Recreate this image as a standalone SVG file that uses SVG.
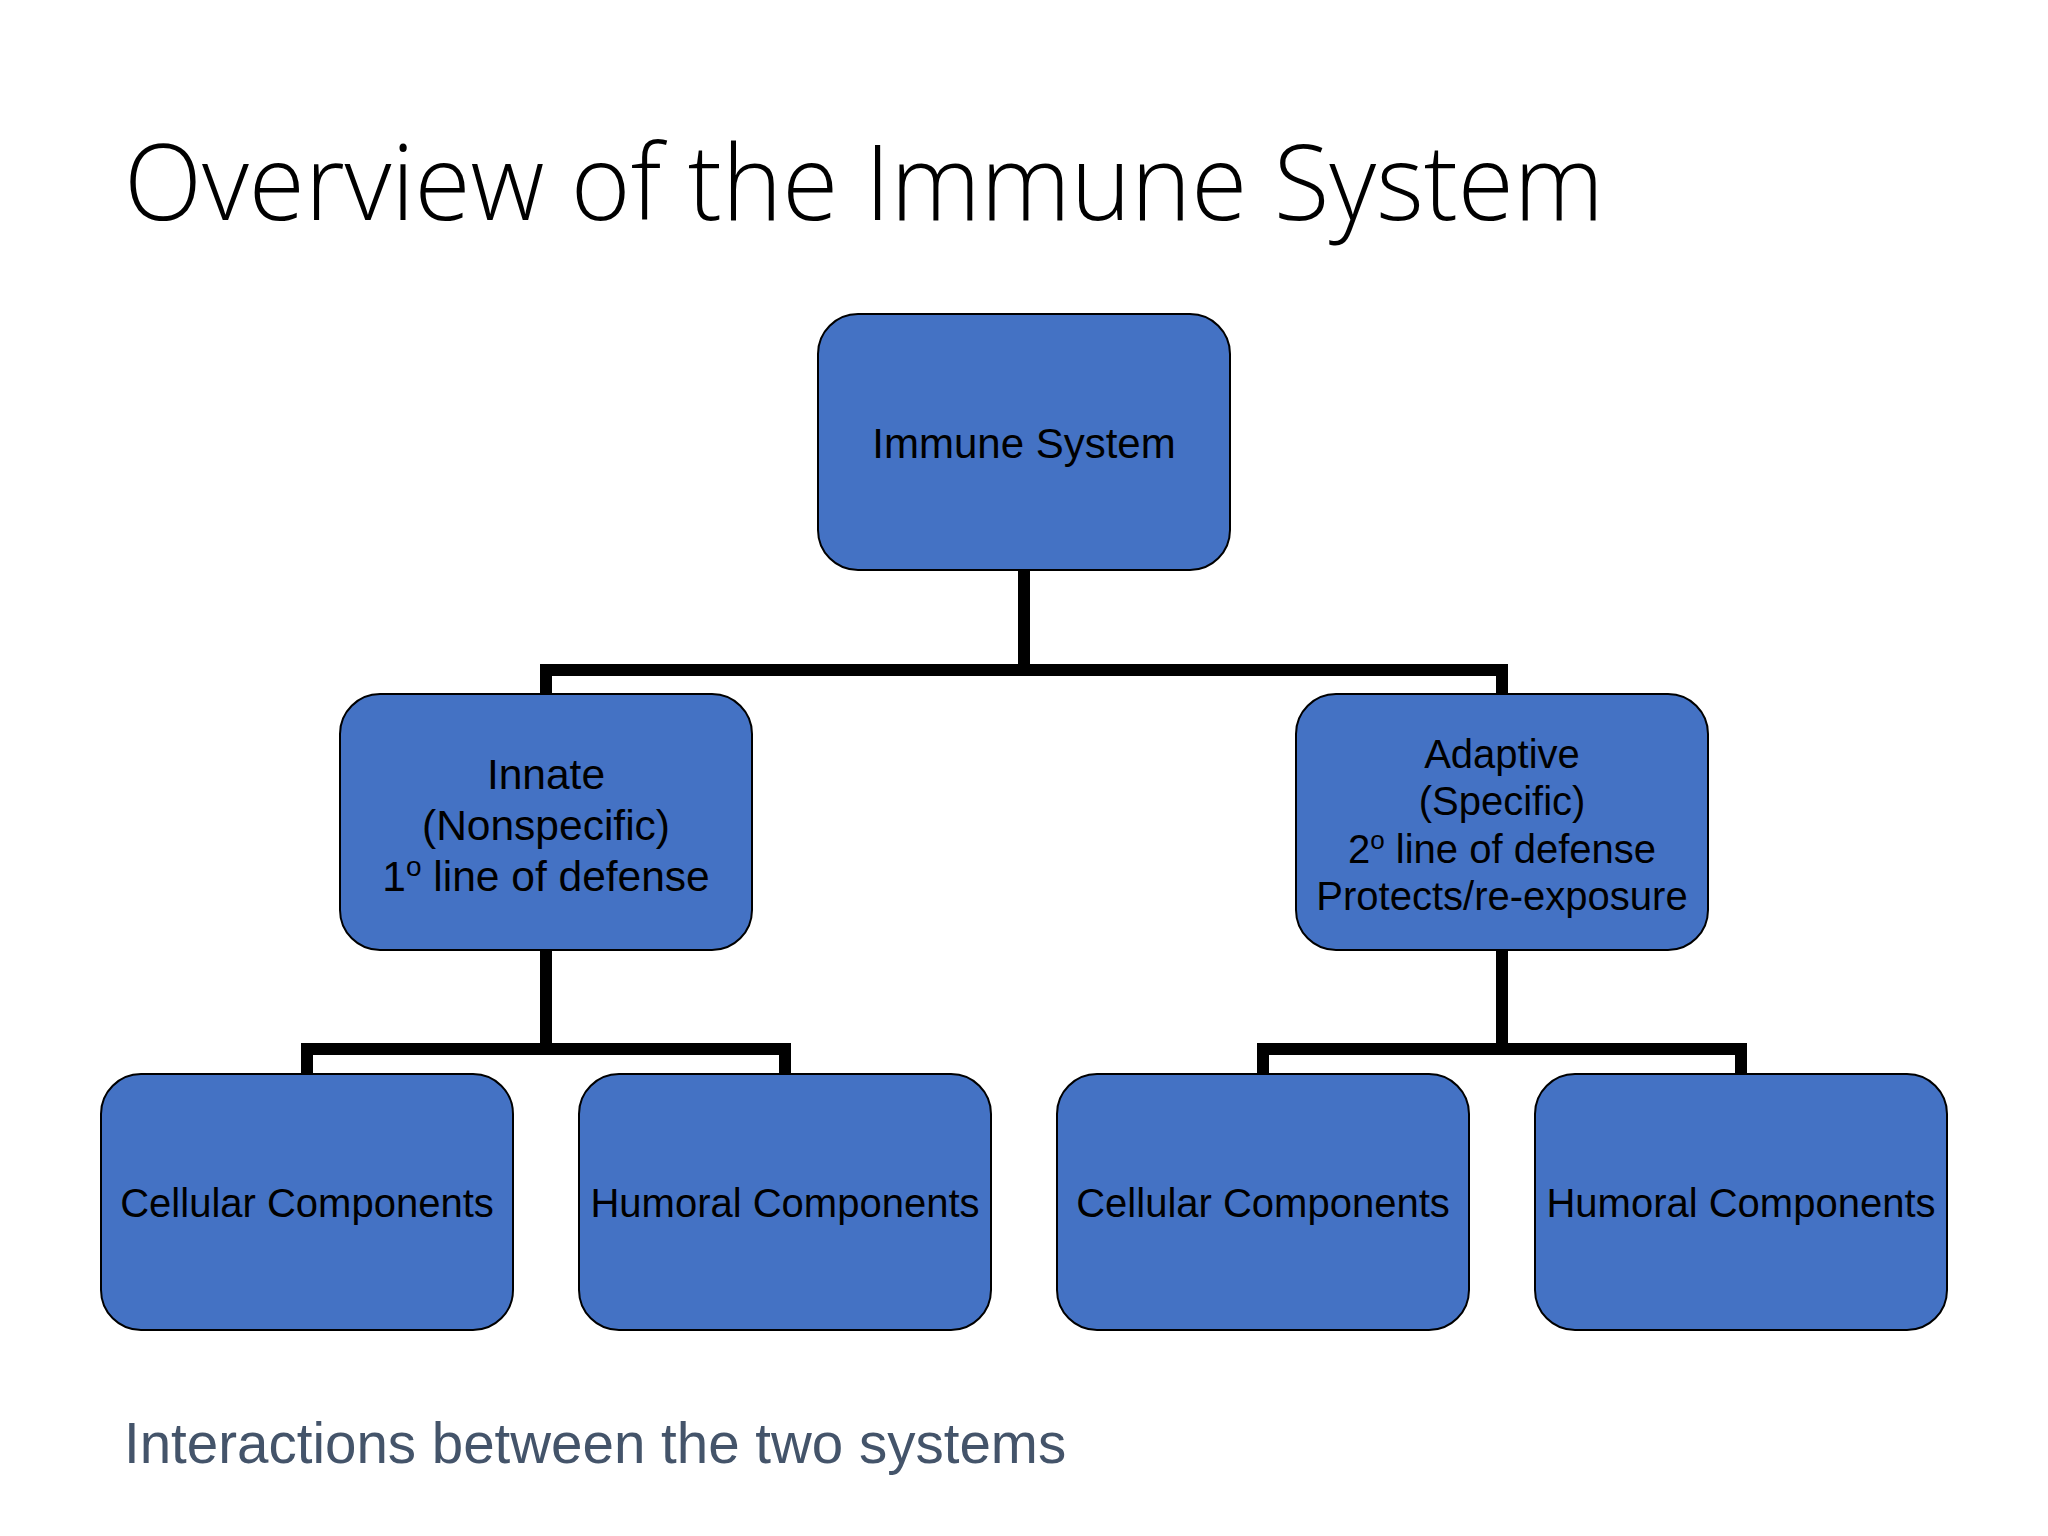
<svg xmlns="http://www.w3.org/2000/svg" width="2048" height="1536" viewBox="0 0 2048 1536">
<style>
.box{fill:#4472C4;stroke:#000;stroke-width:2}
.lbl{font-family:"Liberation Sans",Arial,sans-serif;fill:#000;text-anchor:middle}
.conn{fill:none;stroke:#000;stroke-width:12;stroke-linejoin:miter;stroke-linecap:butt}
</style>
<rect width="2048" height="1536" fill="#fff"/>
<text id="title" x="124" y="220" font-family="'Open Sans',sans-serif" font-weight="300" font-size="106" textLength="1480" lengthAdjust="spacingAndGlyphs" fill="#000">Overview of the Immune System</text>
<g id="connectors">
<path class="conn" d="M1024,570 V670"/>
<path class="conn" d="M546,694 V670 H1502 V694"/>
<path class="conn" d="M546,950 V1049"/>
<path class="conn" d="M307,1074 V1049 H785 V1074"/>
<path class="conn" d="M1502,950 V1049"/>
<path class="conn" d="M1263,1074 V1049 H1741 V1074"/>
</g>
<g id="immune">
<rect class="box" x="818" y="314" width="412" height="256" rx="40"/>
<text class="lbl" x="1024" y="458" font-size="42">Immune System</text>
</g>
<g id="innate">
<rect class="box" x="340" y="694" width="412" height="256" rx="40"/>
<text class="lbl" x="546" y="789" font-size="42.5">Innate</text>
<text class="lbl" x="546" y="840" font-size="42.5">(Nonspecific)</text>
<text class="lbl" x="546" y="891" font-size="42.5">1<tspan dy="-15" font-size="28">o</tspan><tspan dy="15"> line of defense</tspan></text>
</g>
<g id="adaptive">
<rect class="box" x="1296" y="694" width="412" height="256" rx="40"/>
<text class="lbl" x="1502" y="768" font-size="40">Adaptive</text>
<text class="lbl" x="1502" y="815" font-size="40">(Specific)</text>
<text class="lbl" x="1502" y="863" font-size="40">2<tspan dy="-14" font-size="26">o</tspan><tspan dy="14"> line of defense</tspan></text>
<text class="lbl" x="1502" y="910" font-size="40">Protects/re-exposure</text>
</g>
<g id="innate-cellular">
<rect class="box" x="101" y="1074" width="412" height="256" rx="40"/>
<text class="lbl" x="307" y="1217" font-size="40">Cellular Components</text>
</g>
<g id="innate-humoral">
<rect class="box" x="579" y="1074" width="412" height="256" rx="40"/>
<text class="lbl" x="785" y="1217" font-size="40">Humoral Components</text>
</g>
<g id="adaptive-cellular">
<rect class="box" x="1057" y="1074" width="412" height="256" rx="40"/>
<text class="lbl" x="1263" y="1217" font-size="40">Cellular Components</text>
</g>
<g id="adaptive-humoral">
<rect class="box" x="1535" y="1074" width="412" height="256" rx="40"/>
<text class="lbl" x="1741" y="1217" font-size="40">Humoral Components</text>
</g>
<text id="subtitle" x="124" y="1463" font-family="'Liberation Sans',Arial,sans-serif" font-size="56.5" fill="#44546A">Interactions between the two systems</text>
</svg>
